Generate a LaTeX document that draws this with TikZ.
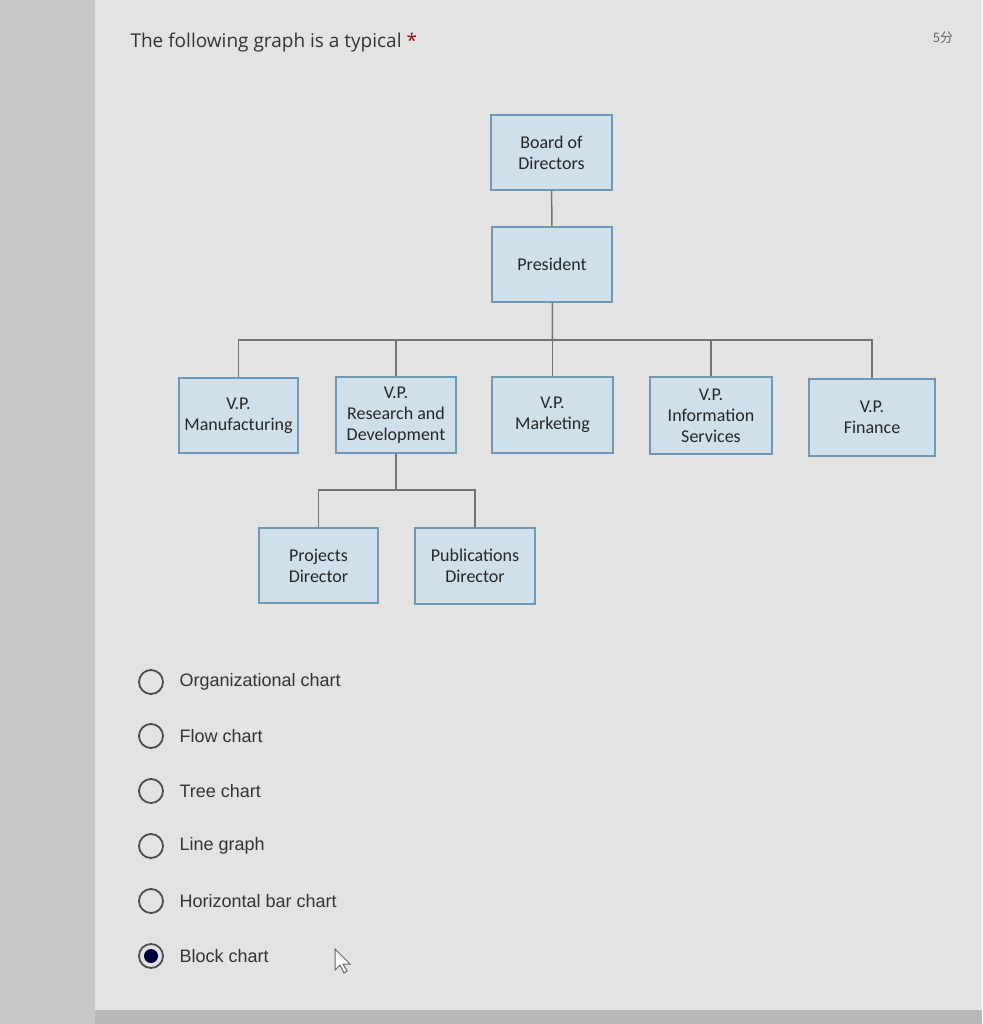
\documentclass[tikz,border=0pt]{standalone}
\usepackage{fontspec}
\setmainfont{Carlito}
\newfontfamily\cjk{Noto Sans CJK SC}
\newfontfamily\titlefont{Open Sans}
\newfontfamily\optfont{Liberation Sans}
\begin{document}
\begin{tikzpicture}[x=1pt,y=-1pt,
  box/.style={draw=boxline,line width=1.2pt,fill=boxfill,align=center,font=\fontsize{18}{21}\selectfont,text=black!85,inner sep=0pt},
  conn/.style={draw=black!55,line width=1.5pt},
  radio/.style={draw=black!70,line width=1.8pt,circle,minimum size=24pt,inner sep=0pt},
  opt/.style={anchor=west,font=\optfont\fontsize{18}{21}\selectfont,text=black!80}]
\definecolor{boxfill}{HTML}{CFE0EA}
\definecolor{boxline}{HTML}{7098B3}
\definecolor{bg}{HTML}{E3E3E2}
\useasboundingbox (0,0) rectangle (982,1024);
\fill[bg] (0,0) rectangle (982,1024);
\fill[black!22] (0,0) rectangle (95,1024);
\fill[black!28] (95,1010) rectangle (982,1024);
\node[anchor=west,font=\titlefont\fontsize{19}{21}\selectfont,text=black!80] (title) at (127,43) {The following graph is a typical \textcolor{red!70!black}{*}};
\node[font=\cjk\fontsize{13}{15}\selectfont,text=black!60] (pts) at (943,38) {5分};
\def\bx#1#2#3#4#5#6{\node[box,minimum width=#4-#2,minimum height=#5-#3] (#1) at ({(#2+#4)/2},{(#3+#5)/2}) {#6};}
\bx{board}{491}{115}{612}{190}{Board of\\Directors}
\bx{pres}{492}{227}{612}{302}{President}
\bx{man}{179}{378}{298}{453}{V.P.\\Manufacturing}
\bx{rd}{336}{377}{456}{453}{V.P.\\Research and\\Development}
\bx{mkt}{492}{377}{613}{453}{V.P.\\Marketing}
\bx{info}{650}{377}{772}{454}{V.P.\\Information\\Services}
\bx{fin}{809}{379}{935}{456}{V.P.\\Finance}
\bx{proj}{259}{528}{378}{603}{Projects\\Director}
\bx{pub}{415}{528}{535}{604}{Publications\\Director}
\coordinate (bus) at (552.5,340);
\coordinate (bus2) at (396,490);
\draw[conn] (board) -- (pres);
\draw[conn] (pres) -- (bus);
\draw[conn] (bus) -| (man);
\draw[conn] (bus) -| (rd);
\draw[conn] (bus) -- (bus |- mkt.north);
\draw[conn] (bus) -| (info);
\draw[conn] (bus) -| (fin);
\draw[conn] (rd) -- (bus2);
\draw[conn] (bus2) -| (proj);
\draw[conn] (bus2) -| (pub);
\foreach \n/\y/\t in {r1/682/Organizational chart,r2/736/Flow chart,r3/791/Tree chart,r4/846/Line graph,r5/901/Horizontal bar chart,r6/956/Block chart}{
  \node[radio] (\n) at (151,\y) {};
  \node[opt] (\n t) at (176,\y) {\t};
}
\fill[blue!25!black] (r6) circle (7pt);
\draw[black!60,line width=1pt,fill=white] (335,949) -- (335,970) -- (340,965) -- (344,973) -- (347,971) -- (343,964) -- (350,964) -- cycle;
\end{tikzpicture}
\end{document}
